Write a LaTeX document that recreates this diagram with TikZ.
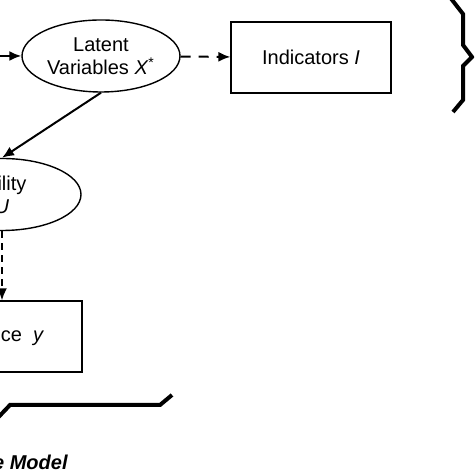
\documentclass[tikz,border=0pt]{standalone}
\usepackage{fontspec}
\setmainfont{Liberation Sans}
\usetikzlibrary{shapes.geometric,arrows.meta}

\begin{document}
\begin{tikzpicture}[x=0.5pt,y=0.5pt,
    every node/.style={font=\fontsize{10}{11.5}\selectfont,align=center,inner sep=0pt},
    latent/.style={draw,ellipse,line width=0.7pt,minimum width=79pt,minimum height=36pt},
    observed/.style={draw,rectangle,line width=0.6pt,minimum width=80pt,minimum height=35.5pt},
    link/.style={line width=1pt,-{Latex[length=6pt,width=5pt]}},
    measure/.style={link,dash pattern=on 5pt off 4pt},
    bracket/.style={line width=2pt,line join=miter}]
        \useasboundingbox (0,0) rectangle (474,474);
        \clip (0,0) rectangle (474,474);

        % The latent part
        \node[latent] (latent) at (101,418) {Latent\\Variables \textit{X}\textsuperscript{*}};
        \node[observed] (indicators) at (311,416.5) {Indicators \textit{I}};
        \node[latent] (utility) at (2,279.5) {Utility\\\textit{U}};
        \node[observed] (choice) at (2,137.5) {Choice\ \ \textit{y}};
        \coordinate (input) at (-30,418);

        % The arrows
        \draw[link] (input) -- (latent);
        \draw[measure] (latent) -- (indicators);
        \draw[link] (latent.south) -- (utility.north);
        \draw[measure,dash pattern=on 3.5pt off 2.5pt] (utility.south) -- (choice.north);

        % The braces
        \draw[bracket] (449,478) -- (463,460) -- (463,429) -- (472,417) -- (463,408)
          -- (463,374) -- (453,362);
        \draw[bracket] (-10,48) -- (10,69) -- (160,69) -- (172,79);
        \node[anchor=base east,font=\fontsize{10}{11.5}\selectfont\bfseries\itshape] (label) at (68,4) {Choice Model};
    \end{tikzpicture}
\end{document}
